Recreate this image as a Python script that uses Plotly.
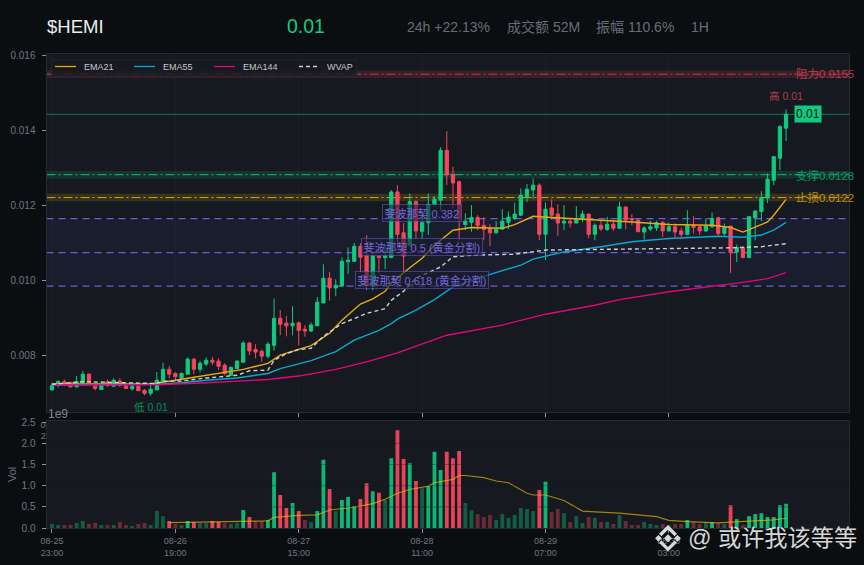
import plotly.graph_objects as go
from plotly.subplots import make_subplots

W, H = 864, 565

# candle prices, in units of 1e-5, one entry per hour from 08-25 23:00
opens = [708, 720, 730, 728, 716, 727, 750, 718, 709, 730, 718, 732, 719, 711, 718, 707, 699, 708, 731, 763,
         752, 739, 750, 790, 763, 777, 787, 785, 774, 747, 765, 782, 833, 816, 811, 798, 827, 899, 886, 879,
         887, 870, 865, 879, 940, 1006, 980, 985, 1050, 1051, 1091, 1065, 990, 1065, 1061, 1061, 1236, 1127, 1094, 1210,
         1131, 1154, 1203, 1214, 1347, 1283, 1263, 1149, 1155, 1168, 1147, 1139, 1127, 1137, 1155, 1166, 1174, 1224, 1241, 1254,
         1123, 1193, 1177, 1153, 1158, 1153, 1164, 1177, 1123, 1147, 1136, 1150, 1139, 1196, 1165, 1161, 1129, 1137, 1140, 1154,
         1132, 1143, 1132, 1123, 1147, 1143, 1132, 1143, 1167, 1125, 1145, 1076, 1088, 1061, 1167, 1184, 1220, 1267, 1326, 1406]
highs = [727, 732, 736, 730, 745, 759, 753, 721, 732, 736, 739, 739, 721, 721, 719, 710, 721, 756, 781, 772,
         755, 755, 795, 793, 785, 795, 796, 792, 779, 771, 787, 838, 836, 830, 816, 836, 952, 921, 905, 931,
         890, 881, 888, 956, 1043, 1023, 1003, 1061, 1088, 1100, 1099, 1121, 1075, 1065, 1094, 1241, 1254, 1153, 1232, 1214,
         1179, 1232, 1225, 1355, 1398, 1303, 1267, 1179, 1201, 1174, 1169, 1150, 1158, 1190, 1184, 1208, 1245, 1257, 1272, 1259,
         1208, 1216, 1203, 1201, 1165, 1198, 1187, 1177, 1152, 1161, 1170, 1161, 1210, 1196, 1177, 1164, 1145, 1159, 1159, 1159,
         1154, 1152, 1141, 1187, 1171, 1146, 1165, 1181, 1170, 1152, 1145, 1096, 1091, 1171, 1187, 1238, 1285, 1332, 1414, 1456]
lows = [706, 715, 718, 715, 716, 725, 726, 707, 709, 716, 716, 716, 711, 706, 705, 694, 692, 707, 730, 739,
        731, 736, 750, 750, 755, 771, 774, 761, 747, 745, 763, 780, 801, 792, 783, 792, 813, 854, 851, 854,
        827, 850, 863, 878, 939, 946, 958, 983, 1017, 1050, 1022, 974, 974, 1019, 1030, 1059, 1086, 1022, 1090, 1112,
        1112, 1121, 1201, 1187, 1254, 1193, 1107, 1134, 1130, 1134, 1107, 1091, 1126, 1136, 1137, 1161, 1172, 1209, 1217, 1107,
        1054, 1163, 1119, 1134, 1141, 1153, 1156, 1113, 1107, 1132, 1132, 1132, 1139, 1136, 1147, 1129, 1109, 1132, 1132, 1116,
        1132, 1114, 1114, 1121, 1125, 1121, 1130, 1141, 1116, 1119, 1020, 1049, 1059, 1059, 1107, 1158, 1206, 1254, 1294, 1372]
closes = [720, 731, 723, 716, 730, 750, 728, 712, 720, 720, 734, 720, 712, 717, 706, 699, 710, 734, 763, 750,
          743, 752, 790, 763, 779, 787, 782, 771, 752, 768, 785, 833, 812, 809, 798, 830, 899, 883, 879, 886,
          867, 865, 881, 942, 1006, 980, 987, 1051, 1054, 1091, 1062, 987, 1065, 1061, 1065, 1236, 1123, 1065, 1210, 1132,
          1154, 1203, 1217, 1347, 1281, 1260, 1166, 1158, 1168, 1147, 1136, 1127, 1137, 1158, 1169, 1177, 1227, 1243, 1254, 1123,
          1190, 1174, 1153, 1158, 1153, 1165, 1177, 1123, 1147, 1137, 1150, 1139, 1196, 1161, 1161, 1130, 1140, 1143, 1154, 1132,
          1143, 1129, 1123, 1147, 1141, 1132, 1146, 1165, 1125, 1143, 1074, 1088, 1061, 1170, 1185, 1221, 1270, 1330, 1410, 1443]

# volume, in units of 1e9
volumes = [.095, .07, .07, .07, .12, .165, .095, .12, .07, .07, .07, .14, .07, .05, .095, .12, .07, .40, .28, .165,
           .095, .07, .165, .14, .12, .12, .165, .14, .12, .095, .12, .425, .26, .165, .165, .19, 1.32, .78, .47, .59,
           .40, .19, .14, .40, 1.61, .92, .40, .66, .73, .52, .685, 1.06, .87, .83, .66, 1.65, 2.31, 1.63, 1.53, 1.11,
           .94, .99, 1.80, 1.37, 1.80, 1.65, 1.82, .59, .42, .33, .26, .31, .19, .33, .24, .31, .47, .45, .40, .90,
           1.09, .38, .45, .35, .14, .28, .12, .26, .24, .14, .14, .095, .31, .165, .07, .07, .14, .095, .07, .095,
           .07, .095, .095, .19, .14, .095, .14, .14, .12, .095, .54, .21, .07, .28, .33, .35, .26, .26, .54, .57]
vol_bright = [19, 22, 23, 26, 27, 31, 32, 35, 36, 37, 38, 39, 40, 43, 44, 45, 47, 48, 49, 50, 51, 52, 53, 55, 56, 57, 58, 59,
              61, 62, 63, 64, 65, 66, 79, 80, 103, 107, 110, 111, 113, 114, 115, 116, 117, 118, 119]
vol_ma_idx = [19, 35, 36, 40, 43, 45, 49, 52, 54, 56, 58, 61, 62, 64, 65, 66, 67, 70, 72, 74, 77, 78, 80, 83, 86, 88, 92, 98,
              100, 103, 108, 110, 114, 117, 119]
vol_ma = [.126, .17, .25, .30, .31, .425, .49, .575, .68, .82, .91, .99, 1.07, 1.13, 1.15, 1.24, 1.24, 1.19, 1.11, 1.07,
          .82, .78, .78, .65, .40, .38, .35, .27, .18, .15, .12, .14, .16, .19, .23]

# indicator lines read at these hours, prices in 1e-5
ema21_idx = [0, 16, 20, 25, 31, 35, 37, 40, 42, 45, 47, 50, 52, 54, 55, 58, 60, 62, 65, 68, 73, 75, 78, 81, 89, 94, 100,
             107, 110, 112, 116, 117, 119]
ema21 = [724, 724, 734, 747, 763, 779, 801, 816, 826, 859, 894, 937, 951, 971, 993, 1034, 1059, 1094, 1134, 1141, 1139,
         1149, 1171, 1168, 1161, 1156, 1149, 1147, 1141, 1129, 1156, 1174, 1216]
ema55_idx = [0, 17, 21, 25, 30, 35, 37, 42, 46, 49, 53, 55, 56, 59, 62, 65, 70, 76, 78, 83, 89, 94, 100, 108, 112, 115, 117, 119]
ema55 = [722, 723, 727, 734, 740, 752, 765, 786, 810, 841, 867, 885, 897, 921, 949, 983, 1011, 1041, 1057, 1076, 1090,
         1103, 1112, 1118, 1115, 1121, 1134, 1155]
ema144_idx = [0, 17, 25, 35, 40, 46, 51, 56, 64, 73, 80, 88, 92, 100, 112, 116, 119]
ema144 = [721, 722, 727, 736, 745, 763, 783, 807, 854, 881, 910, 934, 949, 970, 995, 1005, 1021]
wvap_idx = [0, 5, 17, 18, 21, 25, 30, 32, 35, 36, 38, 40, 42, 44, 47, 51, 54, 55, 57, 59, 63, 65, 68, 75, 80, 89, 103, 110,
            115, 117, 119]
wvap = [723, 730, 725, 731, 732, 740, 747, 759, 761, 787, 805, 816, 819, 851, 885, 912, 925, 947, 971, 1006, 1036, 1063,
        1067, 1070, 1081, 1083, 1085, 1087, 1090, 1093, 1098]

tick_idx = [0, 20, 40, 60, 80, 100]
tick_text = ["08-25<br>23:00", "08-26<br>19:00", "08-27<br>15:00", "08-28<br>11:00", "08-29<br>07:00", "08-30<br>03:00"]

resistance, support, stop_loss = 0.0155, 0.01282, 0.01221
fib_levels = [0.01165, 0.01074, 0.00985]
fib_labels = ["斐波那契 0.382", "斐波那契 0.5 (黄金分割)", "斐波那契 0.618 (黄金分割)"]
last_price = 0.01443

X_RANGE = [-0.89, 129.2]
VOL_TOP = 2.528
GREEN = "#0ecb81"
RED = "#f6465d"
BG = "#0b0e11"
PANEL = "#161a20"
TICK = "#6f7680"
STAT = "#676d76"
FONT = "Liberation Sans, Noto Sans CJK SC, sans-serif"
DASHDOT = "9px,3px,2px,3px"
LINES = [
    ("EMA21", ema21_idx, ema21, "#e5ad0c", "solid", 55, 84),
    ("EMA55", ema55_idx, ema55, "#08a8cc", "solid", 134, 163),
    ("EMA144", ema144_idx, ema144, "#e0077a", "solid", 214, 243),
    ("WVAP", wvap_idx, wvap, "#d0d0d0", "4px,3px", 299, 327),
]


def scale(values):
    return [v * 1e-5 for v in values]


def px(x):
    return x / W


def py(y):
    return 1 - y / H


hours = list(range(len(opens)))
fig = make_subplots(rows=2, cols=1)

fig.add_trace(go.Candlestick(
    x=hours, open=scale(opens), high=scale(highs), low=scale(lows), close=scale(closes),
    increasing=dict(line=dict(color=GREEN, width=1), fillcolor=GREEN),
    decreasing=dict(line=dict(color=RED, width=1), fillcolor=RED),
    whiskerwidth=0, showlegend=False,
), row=1, col=1)

for name, idx, vals, color, dash, _, _ in LINES:
    fig.add_trace(go.Scatter(x=idx, y=scale(vals), mode="lines", name=name, showlegend=False,
                             line=dict(color=color, width=1.4, dash=dash)), row=1, col=1)

bar_colors = []
for i in hours:
    up = closes[i] >= opens[i]
    if i in vol_bright:
        bar_colors.append("rgba(14,203,129,0.88)" if up else "rgba(246,70,93,0.92)")
    else:
        bar_colors.append("rgba(14,203,129,0.38)" if up else "rgba(246,70,93,0.38)")
fig.add_trace(go.Bar(x=hours, y=volumes, marker=dict(color=bar_colors, line=dict(width=0)), width=0.62,
                     showlegend=False), row=2, col=1)
fig.add_trace(go.Scatter(x=vol_ma_idx, y=vol_ma, mode="lines", showlegend=False,
                         line=dict(color="rgba(240,185,11,0.65)", width=1.2)), row=2, col=1)

# levels, bands
for level, color, rgb in [(resistance, "rgba(246,70,93,0.7)", "246,70,93"),
                          (support, "rgba(14,203,129,0.9)", "14,203,129"),
                          (stop_loss, "rgba(240,185,11,0.85)", "240,185,11")]:
    fig.add_shape(type="rect", xref="x", yref="y", x0=X_RANGE[0], x1=X_RANGE[1], y0=level - 0.0001, y1=level + 0.0001,
                  fillcolor=f"rgba({rgb},0.15)", line_width=0, layer="between")
    fig.add_shape(type="line", xref="x", yref="y", x0=X_RANGE[0], x1=X_RANGE[1], y0=level, y1=level,
                  line=dict(color=color, width=1, dash=DASHDOT), layer="between")
fig.add_shape(type="rect", xref="x", yref="y", x0=X_RANGE[0], x1=X_RANGE[1], y0=fib_levels[2], y1=fib_levels[0],
              fillcolor="rgba(105,90,230,0.06)", line_width=0, layer="between")
for level in fib_levels:
    fig.add_shape(type="line", xref="x", yref="y", x0=X_RANGE[0], x1=X_RANGE[1], y0=level, y1=level,
                  line=dict(color="#6f5be0", width=1.3, dash="7px,5px"), layer="between")
fig.add_shape(type="line", xref="x", yref="y", x0=X_RANGE[0], x1=X_RANGE[1], y0=last_price, y1=last_price,
              line=dict(color="rgba(14,203,129,0.55)", width=1), layer="between")

# lower panel covers the upper axis labels, as in the original
fig.add_shape(type="rect", xref="x2", yref="y2", x0=X_RANGE[0], x1=X_RANGE[1], y0=0, y1=VOL_TOP,
              fillcolor=PANEL, line_width=0, layer="between")
for v in [0.5, 1.0, 1.5, 2.0]:
    fig.add_shape(type="line", xref="x2", yref="y2", x0=X_RANGE[0], x1=X_RANGE[1], y0=v, y1=v,
                  line=dict(color="rgba(22,26,32,0.35)", width=1), layer="above")

# binance logo of the watermark
logo_x, logo_y = 668, 538.3
for cx, cy, r in [(0, 0, 4), (-9.5, 0, 3.4), (9.5, 0, 3.4)]:
    pts = [(cx - r, cy), (cx, cy - r), (cx + r, cy), (cx, cy + r)]
    path = "M" + " L".join(f"{px(logo_x + a):.5f},{py(logo_y + b):.5f}" for a, b in pts) + " Z"
    fig.add_shape(type="path", xref="paper", yref="paper", path=path, fillcolor="#d9d9d9", line_width=0, layer="above")
for sign in (-1, 1):
    pts = [(-9, -4.5), (0, -13.3), (9, -4.5), (6.6, -2.1), (0, -8.6), (-6.6, -2.1)]
    path = "M" + " L".join(f"{px(logo_x + a):.5f},{py(logo_y + sign * -b):.5f}" for a, b in pts) + " Z"
    fig.add_shape(type="path", xref="paper", yref="paper", path=path, fillcolor="#d9d9d9", line_width=0, layer="above")


def note(x, y, text, size, color, xanchor="center", **kw):
    fig.add_annotation(x=px(x), y=py(y), xref="paper", yref="paper", text=text, showarrow=False,
                       xanchor=xanchor, yanchor="middle",
                       font=dict(size=size, color=color, family=FONT), **kw)


# legend drawn by hand, the built-in one cannot be made this short
fig.add_shape(type="rect", xref="paper", yref="paper", x0=px(51.7), x1=px(356.7), y0=py(76), y1=py(60),
              fillcolor="rgba(22,26,32,0.78)", line=dict(color="#20252c", width=1), layer="above")
for name, _, _, color, dash, line_x, text_x in LINES:
    fig.add_shape(type="line", xref="paper", yref="paper", x0=px(line_x), x1=px(line_x + 21), y0=py(66.5), y1=py(66.5),
                  line=dict(color=color, width=1.3, dash=dash), layer="above")
    note(text_x - 2, 67.5, name, 9, "#c4c8ce", xanchor="left")

note(45, 26, "$HEMI", 18.5, "#eaecef", xanchor="left")
note(285, 26, "0.01", 19.5, GREEN, xanchor="left")
note(405, 27, "24h +22.13%", 14, STAT, xanchor="left")
note(505, 27, "成交额 52M", 14, STAT, xanchor="left")
note(594, 27, "振幅 110.6%", 14, STAT, xanchor="left")
note(689, 27, "1H", 14, STAT, xanchor="left")

note(855.5, 74, "阻力0.0155", 11.5, "#b93a4d", xanchor="right")
note(855.5, 175, "支撑0.0128", 11.5, "#0c9463", xanchor="right")
note(855.5, 198, "止损0.0122", 11.5, "#b88e0a", xanchor="right")
note(808, 114.3, "0.01", 12, "#0b0e11", bgcolor=GREEN, borderpad=1)

fig.add_annotation(x=119, y=highs[119] * 1e-5, yshift=13, text="高 0.01", showarrow=False,
                   font=dict(size=10.5, color="#b93a4d", family=FONT))
fig.add_annotation(x=16, y=lows[16] * 1e-5, yshift=-11, text="低 0.01", showarrow=False,
                   font=dict(size=10.5, color="#0c8a5c", family=FONT))

for level, label in zip(fib_levels, fib_labels):
    fig.add_annotation(x=60, y=level, yshift=6, text=label, showarrow=False, borderpad=1.5,
                       bgcolor="rgba(26,26,46,0.6)", bordercolor="rgba(106,90,205,0.55)", borderwidth=1,
                       font=dict(size=11, color="#7468dc", family=FONT))

note(46, 413.5, "1e9", 12, "#7a8089", xanchor="left")
note(12, 475, "Vol", 11, TICK, textangle=-90)
note(685.5, 538, "@ 或许我该等等", 23.2, "#d6d6d6", xanchor="left")

fig.update_xaxes(range=X_RANGE, tickmode="array", tickvals=tick_idx, ticktext=tick_text, ticks="outside",
                 ticklen=4, tickcolor="#8a9099", tickfont=dict(size=9, color=TICK, family=FONT), automargin=False,
                 showgrid=True, gridcolor="rgba(255,255,255,0.025)", zeroline=False, showline=True,
                 linecolor="#252a31", mirror=True, rangeslider_visible=False, domain=[px(46.5), px(849)])
fig.update_yaxes(showgrid=False, zeroline=False, showline=True, linecolor="#252a31", mirror=True, ticks="outside",
                 automargin=False, ticklen=4, tickcolor="#8a9099", ticklabelstandoff=4,
                 tickfont=dict(size=10, color=TICK, family=FONT))
fig.update_yaxes(range=[0.0065, 0.01603], tickvals=[0.008, 0.010, 0.012, 0.014, 0.016], tickformat=".3f",
                 domain=[py(411.7), py(54.3)], row=1, col=1)
fig.update_yaxes(range=[0, VOL_TOP], tickvals=[0, 0.5, 1.0, 1.5, 2.0, 2.5], tickformat=".1f",
                 domain=[py(528), py(421)], row=2, col=1)

fig.update_layout(
    width=W, height=H, autosize=False, margin=dict(l=0, r=0, t=0, b=0),
    paper_bgcolor=BG, plot_bgcolor=PANEL, font=dict(family=FONT),
    boxgap=0.25, hovermode=False, showlegend=False,
)

fig.write_html("out.html", config={"displayModeBar": False},
               post_script="document.body.style.margin='0';document.body.style.background='%s';" % BG)
